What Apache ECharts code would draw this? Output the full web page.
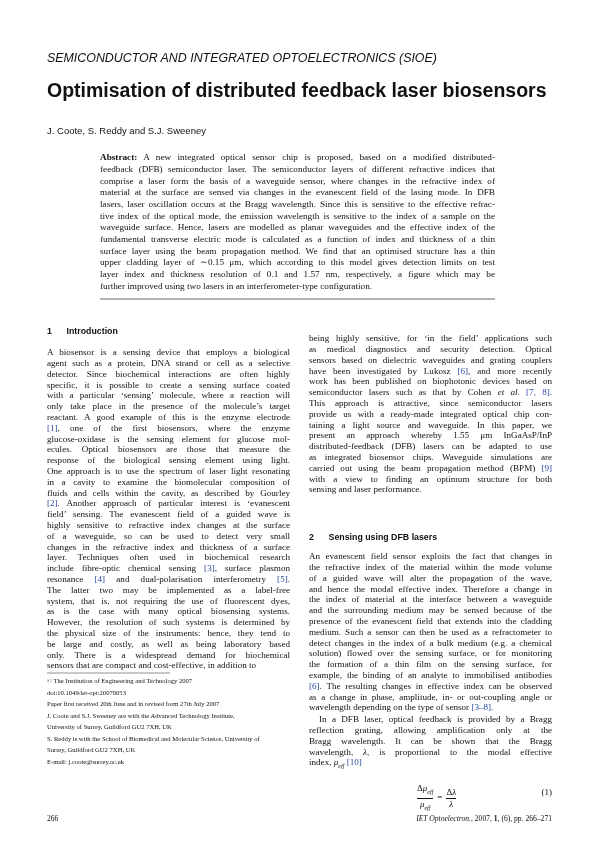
<!DOCTYPE html>
<html><head><meta charset="utf-8">
<script src="https://cdn.jsdelivr.net/npm/echarts@6/dist/echarts.min.js"></script>
<style>
body{margin:0;width:595px;height:842px;position:relative;background:#fff;overflow:hidden}
#page{position:absolute;left:0;top:0;width:595px;height:842px}
.ln{position:absolute;white-space:nowrap;color:#111;font-family:"Liberation Serif",serif}
.j{text-align:justify;text-align-last:justify;white-space:normal;overflow:hidden;height:12px}
.c{color:#2b4aa0}
.sans{font-family:"Liberation Sans",Arial,sans-serif}
</style></head><body>
<div id="page"></div>
<div id="txt"></div>
<script>
// page text, one entry per printed line
const abstractLines = [
 '<b>Abstract:</b> A new integrated optical sensor chip is proposed, based on a modified distributed-',
 'feedback (DFB) semiconductor laser. The semiconductor layers of different refractive indices that',
 'comprise a laser form the basis of a waveguide sensor, where changes in the refractive index of',
 'material at the surface are sensed via changes in the evanescent field of the lasing mode. In DFB',
 'lasers, laser oscillation occurs at the Bragg wavelength. Since this is sensitive to the effective refrac-',
 'tive index of the optical mode, the emission wavelength is sensitive to the index of a sample on the',
 'waveguide surface. Hence, lasers are modelled as planar waveguides and the effective index of the',
 'fundamental transverse electric mode is calculated as a function of index and thickness of a thin',
 'surface layer using the beam propagation method. We find that an optimised structure has a thin',
 'upper cladding layer of ∼0.15 μm, which according to this model gives detection limits on test',
 'layer index and thickness resolution of 0.1 and 1.57 nm, respectively, a figure which may be',
 'further improved using two lasers in an interferometer-type configuration.'];
const leftLines = [
 'A biosensor is a sensing device that employs a biological',
 'agent such as a protein, DNA strand or cell as a selective',
 'detector. Since biochemical interactions are often highly',
 'specific, it is possible to create a sensing surface coated',
 'with a particular ‘sensing’ molecule, where a reaction will',
 'only take place in the presence of the molecule’s target',
 'reactant. A good example of this is the enzyme electrode',
 '[1], one of the first biosensors, where the enzyme',
 'glucose-oxidase is the sensing element for glucose mol-',
 'ecules. Optical biosensors are those that measure the',
 'response of the biological sensing element using light.',
 'One approach is to use the spectrum of laser light resonating',
 'in a cavity to examine the biomolecular composition of',
 'fluids and cells within the cavity, as described by Gourley',
 '[2]. Another approach of particular interest is ‘evanescent',
 'field’ sensing. The evanescent field of a guided wave is',
 'highly sensitive to refractive index changes at the surface',
 'of a waveguide, so can be used to detect very small',
 'changes in the refractive index and thickness of a surface',
 'layer. Techniques often used in biochemical research',
 'include fibre-optic chemical sensing [3], surface plasmon',
 'resonance [4] and dual-polarisation interferometry [5].',
 'The latter two may be implemented as a label-free',
 'system, that is, not requiring the use of fluorescent dyes,',
 'as is the case with many optical biosensing systems.',
 'However, the resolution of such systems is determined by',
 'the physical size of the instruments: hence, they tend to',
 'be large and costly, as well as being laboratory based',
 'only. There is a widespread demand for biochemical',
 'sensors that are compact and cost-effective, in addition to'];
const rightPara1 = [
 'being highly sensitive, for ‘in the field’ applications such',
 'as medical diagnostics and security detection. Optical',
 'sensors based on dielectric waveguides and grating couplers',
 'have been investigated by Lukosz [6], and more recently',
 'work has been published on biophotonic devices based on',
 'semiconductor lasers such as that by Cohen <i>et al.</i> [7, 8].',
 'This approach is attractive, since semiconductor lasers',
 'provide us with a ready-made integrated optical chip con-',
 'taining a light source and waveguide. In this paper, we',
 'present an approach whereby 1.55 μm InGaAsP/InP',
 'distributed-feedback (DFB) lasers can be adapted to use',
 'as integrated biosensor chips. Waveguide simulations are',
 'carried out using the beam propagation method (BPM) [9]',
 'with a view to finding an optimum structure for both',
 'sensing and laser performance.'];
const rightPara2 = [
 'An evanescent field sensor exploits the fact that changes in',
 'the refractive index of the material within the mode volume',
 'of a guided wave will alter the propagation of the wave,',
 'and hence the modal effective index. Therefore a change in',
 'the index of material at the interface between a waveguide',
 'and the surrounding medium may be sensed because of the',
 'presence of the evanescent field that extends into the cladding',
 'medium. Such a sensor can then be used as a refractometer to',
 'detect changes in the index of a bulk medium (e.g. a chemical',
 'solution) flowed over the sensing surface, or for monitoring',
 'the formation of a thin film on the sensing surface, for',
 'example, the binding of an analyte to immobilised antibodies',
 '[6]. The resulting changes in effective index can be observed',
 'as a change in phase, amplitude, in- or out-coupling angle or',
 'wavelength depending on the type of sensor [3–8].'];
const rightPara3 = [
 'In a DFB laser, optical feedback is provided by a Bragg',
 'reflection grating, allowing amplification only at the',
 'Bragg wavelength. It can be shown that the Bragg',
 'wavelength, <i>λ</i>, is proportional to the modal effective',
 'index, <i>μ</i><sub style="font-size:6px"><i>eff</i></sub> [10]'];
const footLines = [
 '© The Institution of Engineering and Technology 2007',
 'doi:10.1049/iet-opt:20070053',
 'Paper first received 20th June and in revised form 27th July 2007',
 'J. Coote and S.J. Sweeney are with the Advanced Technology Institute,',
 'University of Surrey, Guildford GU2 7XH, UK',
 'S. Reddy is with the School of Biomedical and Molecular Science, University of',
 'Surrey, Guildford GU2 7XH, UK',
 'E-mail: j.coote@surrey.ac.uk'];

const txt = document.getElementById('txt');
function put(x, y, html, size, opts) {
  opts = opts || {};
  const d = document.createElement('div');
  d.className = 'ln' + (opts.j ? ' j' : '') + (opts.sans ? ' sans' : '');
  d.style.left = x + 'px';
  d.style.top = (y - size * 0.85) + 'px';
  d.style.fontSize = size + 'px';
  d.style.lineHeight = size * 1.2 + 'px';
  if (opts.w) { d.style.width = opts.w + 'px'; d.style.height = size * 1.3 + 'px'; }
  if (opts.right) { d.style.left = ''; d.style.right = (595 - x) + 'px'; }
  if (opts.style) d.style.cssText += opts.style;
  d.innerHTML = html.replace(/\[[0-9, –]+\]/g, m => '<span class="c">' + m + '</span>');
  txt.appendChild(d);
}
function para(lines, x, y0, w, lh, size, indent) {
  lines.forEach((l, i) => {
    const last = i === lines.length - 1;
    const dx = (indent && i === 0) ? 10 : 0;
    put(x + dx, y0 + i * lh, l, size, { j: !last, w: w - dx });
  });
}

put(47, 62, 'SEMICONDUCTOR AND INTEGRATED OPTOELECTRONICS (SIOE)', 12.4, { sans: 1, style: 'font-style:italic' });
put(47, 96, 'Optimisation of distributed feedback laser biosensors', 19.5, { sans: 1, style: 'font-weight:bold' });
put(47, 133, 'J. Coote, S. Reddy and S.J. Sweeney', 9.5, { sans: 1 });
para(abstractLines, 100, 160, 395, 11.7, 9.2, false);

put(47, 333, '1&nbsp;&nbsp;&nbsp;&nbsp;&nbsp;&nbsp;Introduction', 8.8, { sans: 1, style: 'font-weight:bold' });
para(leftLines, 47, 355, 243, 10.8, 9.1, false);
para(rightPara1, 309, 341, 243, 10.8, 9.1, false);
put(309, 539, '2&nbsp;&nbsp;&nbsp;&nbsp;&nbsp;&nbsp;Sensing using DFB lasers', 8.8, { sans: 1, style: 'font-weight:bold' });
para(rightPara2, 309, 559, 243, 10.8, 9.1, false);
para(rightPara3, 309, 722, 243, 10.8, 9.1, true);

footLines.forEach((l, i) => put(47, 683 + i * 11.5, l, 6.6));
put(47, 820, '266', 7.6);
put(552, 820, '<i>IET Optoelectron.</i>, 2007, <b>1</b>, (6), pp. 266–271', 7.6, { right: 1 });

// equation (1)
put(417, 791, '<span style="display:inline-block;text-align:center;vertical-align:middle;margin-right:4px"><span style="display:block;border-bottom:0.6px solid #111">Δ<i>μ</i><sub style="font-size:6px"><i>eff</i></sub></span><i>μ</i><sub style="font-size:6px"><i>eff</i></sub></span>=<span style="display:inline-block;text-align:center;vertical-align:middle;margin-left:4px"><span style="display:block;border-bottom:0.6px solid #111">Δ<i>λ</i></span><i>λ</i></span>', 9);
put(552, 795, '(1)', 9, { right: 1 });

// rules drawn on an ECharts canvas
const page = echarts.init(document.getElementById('page'));
page.setOption({
  animation: false,
  graphic: [
    { type: 'line', shape: { x1: 100, y1: 299, x2: 495, y2: 299 }, style: { stroke: '#222', lineWidth: 0.7 } },
    { type: 'line', shape: { x1: 47, y1: 673, x2: 170, y2: 673 }, style: { stroke: '#222', lineWidth: 0.5 } }
  ]
});
</script>
</body></html>
